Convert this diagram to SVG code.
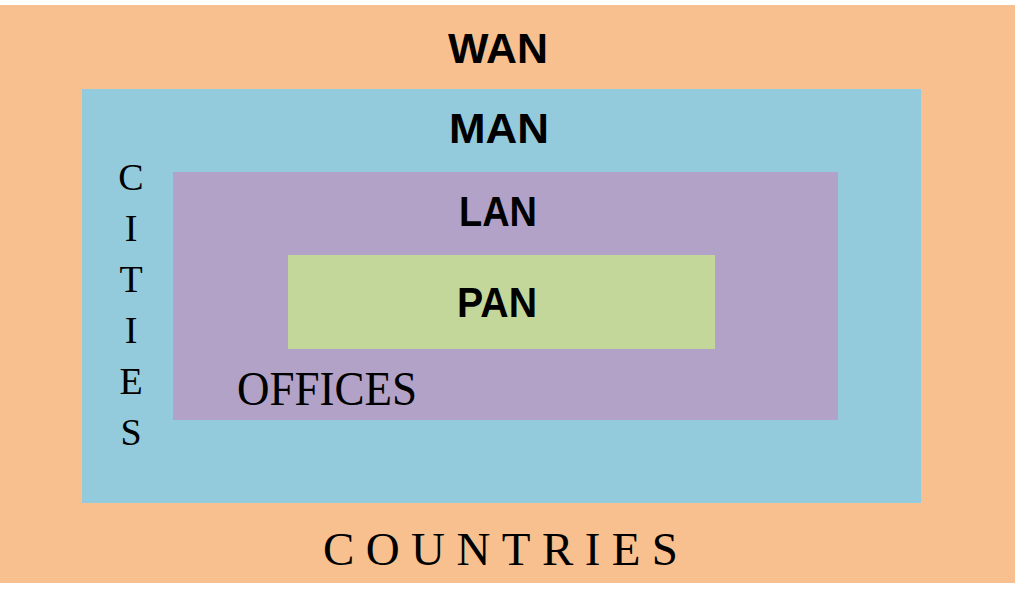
<svg xmlns="http://www.w3.org/2000/svg" width="1015" height="608" viewBox="0 0 1015 608">
<style>
.title{font-family:"Liberation Sans",Arial,sans-serif;font-weight:bold;font-size:43px;fill:#000;text-anchor:middle}
.serif{font-family:"Liberation Serif","Times New Roman",serif;fill:#000}
.cities{font-size:38px;text-anchor:middle}
</style>
<rect x="0" y="0" width="1015" height="608" fill="#ffffff"/>
<g id="wan">
<rect x="0" y="5" width="1015" height="578" fill="#F9C08F"/>
<text class="title" x="498" y="63" textLength="100" lengthAdjust="spacingAndGlyphs">WAN</text>
<text class="serif" x="323" y="565" font-size="47" textLength="355" lengthAdjust="spacing">COUNTRIES</text>
</g>
<g id="man">
<rect x="82" y="89" width="839" height="414" fill="#93CBDC"/>
<text class="title" x="499" y="143" textLength="100" lengthAdjust="spacingAndGlyphs">MAN</text>
<g class="serif cities">
<text x="131" y="190">C</text>
<text x="131" y="241">I</text>
<text x="131" y="292">T</text>
<text x="131" y="343">I</text>
<text x="131" y="394">E</text>
<text x="131" y="445">S</text>
</g>
</g>
<g id="lan">
<rect x="173" y="172" width="665" height="248" fill="#B3A2C7"/>
<text class="title" x="498" y="226" textLength="78" lengthAdjust="spacingAndGlyphs">LAN</text>
<text class="serif" x="237" y="405" font-size="48" textLength="180" lengthAdjust="spacingAndGlyphs">OFFICES</text>
</g>
<g id="pan">
<rect x="288" y="255" width="427" height="94" fill="#C4D79B"/>
<text class="title" x="497" y="317" textLength="80" lengthAdjust="spacingAndGlyphs">PAN</text>
</g>
<g id="connectors"/>
</svg>
